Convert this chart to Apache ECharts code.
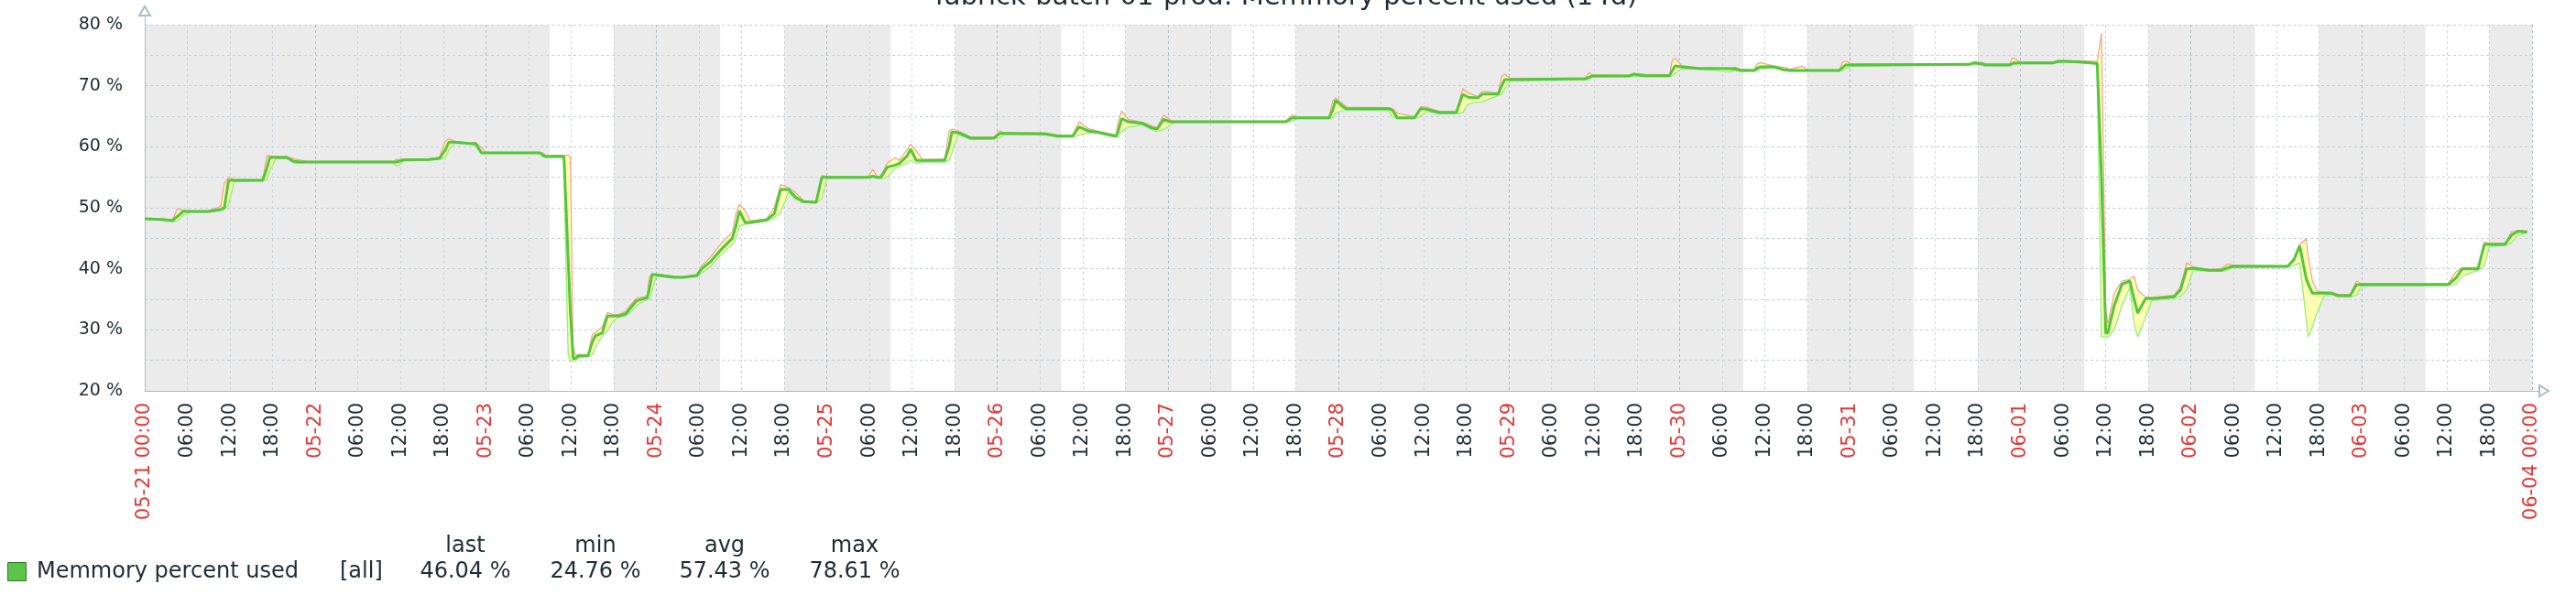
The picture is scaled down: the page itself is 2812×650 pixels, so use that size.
<!DOCTYPE html>
<html><head><meta charset="utf-8">
<script src="https://cdn.jsdelivr.net/npm/echarts@6/dist/echarts.min.js"></script>
<style>html,body{margin:0;padding:0;background:#fff}#c{width:2812px;height:650px}</style>
</head><body><div id="c"></div>
<script>
const titleText = 'fabrick-batch-01-prod: Memmory percent used (14d)';
const startDate = Date.UTC(2022, 4, 21);
const spanHours = 336;
const workDays = ['05-23','05-24','05-25','05-26','05-27','05-30','05-31','06-01','06-02','06-03'];
const workHours = [9, 18];
const legendName = 'Memmory percent used';
const legendFunc = '[all]';
const legendHeaders = ['last', 'min', 'avg', 'max'];
const legendValues = ['46.04 %', '24.76 %', '57.43 %', '78.61 %'];

// hours since 05-21 00:00
const hours = [0,2.4,3.9,4.6,5.4,6.5,9.0,10.7,11.2,11.8,12.6,16.6,17.2,17.6,18.4,20.0,21.0,22.0,23.0,35.0,35.4,35.8,36.4,40.0,41.5,42.3,42.8,43.6,46.0,46.6,47.4,48.0,55.6,56.0,56.4,59.0,59.3,59.6,59.9,60.3,60.7,61.1,62.4,63.0,63.4,64.4,65.1,66.0,66.6,67.7,68.3,69.2,70.7,71.0,71.4,72.0,74.5,75.7,77.7,78.4,79.7,81.0,82.7,83.2,83.7,84.5,85.2,87.5,88.6,89.5,90.6,91.6,92.7,94.5,95.3,96.0,101.8,102.5,103.0,103.6,104.5,105.6,106.2,107.3,107.8,108.6,109.5,112.6,113.2,113.6,114.5,116.3,119.5,120.4,121.0,126.7,128.5,130.6,131.5,132.8,134.3,135.6,136.7,137.0,137.5,138.4,140.4,141.7,142.5,143.4,144.3,145.0,160.6,161.5,162.2,166.7,167.2,167.6,168.7,169.1,175.0,175.6,176.3,178.7,179.6,180.4,182.2,184.6,185.5,186.3,187.6,188.3,190.5,191.0,191.4,192.2,202.8,203.3,203.7,208.9,209.6,211.1,214.6,215.0,215.4,216.3,218.5,223.0,223.9,224.6,226.5,227.0,227.4,229.4,230.7,231.6,233.3,234.0,238.5,239.0,239.4,240.2,256.8,257.5,258.6,259.0,262.5,262.8,263.1,264.0,268.6,269.3,270.3,272.3,274.8,275.4,276.0,276.3,277.2,278.3,279.4,280.0,280.5,281.6,282.5,285.6,286.5,287.4,288.3,290.5,292.2,293.2,293.8,301.6,302.5,303.3,304.2,304.5,305.1,305.8,306.8,307.8,308.7,310.4,311.3,312.0,324.2,325.3,326.2,328.4,329.3,330.0,332.2,333.1,334.0,335.3];
const avgValues = [48.2,48.1,47.9,48.6,49.4,49.4,49.4,49.75,50.0,54.5,54.5,54.5,56.5,58.25,58.25,58.25,57.6,57.5,57.5,57.5,57.5,57.6,57.85,57.9,58.1,59.5,60.75,60.75,60.5,60.5,59.0,59.0,59.0,58.7,58.4,58.4,50.0,41.5,33.0,25.25,25.4,25.75,25.75,28.0,29.0,29.5,32.25,32.25,32.25,32.6,33.5,34.75,35.25,36.5,39.0,39.0,38.6,38.6,38.9,40.0,41.25,43.0,45.0,47.0,49.5,47.6,47.6,48.0,49.0,53.0,53.0,51.75,51.0,50.9,55.0,55.0,55.0,55.2,55.0,55.0,56.65,57.0,57.25,58.5,59.6,57.75,57.75,57.8,60.0,62.4,62.3,61.4,61.4,62.2,62.2,62.1,61.75,61.75,63.25,62.6,62.35,62.0,61.75,62.5,64.6,64.1,63.85,63.1,62.9,64.5,64.1,64.1,64.1,64.75,64.75,64.75,66.0,67.6,66.5,66.25,66.25,66.0,64.75,64.75,66.25,66.15,65.6,65.6,68.6,68.1,68.0,68.65,68.65,70.0,71.0,71.0,71.15,71.4,71.6,71.6,71.9,71.65,71.65,72.5,73.25,73.1,72.85,72.8,72.75,72.5,72.5,72.9,73.1,73.1,72.6,72.5,72.5,72.5,72.5,73.0,73.4,73.4,73.5,73.75,73.6,73.4,73.4,73.6,73.75,73.75,73.75,74.0,74.0,73.9,73.65,55.0,29.5,29.5,34.0,37.5,38.0,35.0,32.75,35.1,35.1,35.4,36.5,40.0,40.1,39.75,39.75,40.2,40.4,40.4,41.5,43.75,38.5,37.5,36.0,36.0,36.0,36.0,35.6,35.6,37.4,37.4,37.4,38.5,40.0,40.0,44.0,44.0,44.0,45.5,46.15,46.04];
const minValues = [48.1,48.0,47.7,47.8,48.8,49.3,49.3,49.5,49.8,50.5,54.3,54.4,54.6,56.0,58.0,58.1,57.3,57.3,57.4,57.4,56.9,57.0,57.7,57.8,58.0,58.2,59.5,60.6,60.4,60.0,58.9,58.9,58.9,58.3,58.3,58.3,40.0,26.0,24.76,24.9,25.0,25.5,25.6,25.9,27.0,29.0,29.8,31.5,32.0,32.3,32.8,34.0,35.0,35.0,36.5,38.8,38.5,38.5,38.7,39.3,40.5,42.2,44.0,45.0,47.0,47.3,47.4,47.8,48.4,49.2,52.5,51.4,50.9,50.8,51.5,54.8,54.9,54.9,54.9,54.8,55.0,56.5,56.8,57.3,57.8,57.3,57.5,57.5,57.8,59.0,62.0,61.2,61.3,61.5,62.0,62.0,61.6,61.6,61.9,62.3,62.2,61.8,61.6,61.7,62.5,63.2,63.6,62.8,62.5,62.8,63.5,64.0,64.0,64.2,64.6,64.6,64.8,65.5,66.0,66.0,66.0,64.9,64.6,64.6,65.0,65.8,65.4,65.4,65.6,67.0,67.3,67.4,68.4,68.6,69.5,70.8,71.0,71.0,71.4,71.5,71.6,71.5,71.5,71.7,72.0,72.8,72.7,72.3,72.5,72.4,72.4,72.5,72.8,72.9,72.5,72.4,72.4,72.4,72.4,72.5,72.8,73.2,73.4,73.5,73.4,73.3,73.3,73.4,73.5,73.6,73.6,73.8,73.9,73.8,73.5,28.8,29.0,28.8,30.0,34.0,37.0,31.0,28.8,32.0,34.8,35.2,35.5,36.5,39.8,39.6,39.6,39.8,40.2,40.3,40.5,41.0,32.0,28.8,30.5,33.0,35.7,35.8,35.4,35.4,35.7,37.2,37.3,37.5,38.8,39.8,40.5,43.7,43.8,44.3,45.5,45.9];
const maxValues = [48.3,48.2,48.0,49.8,49.6,49.5,49.5,50.2,54.0,55.0,54.6,54.6,58.6,58.5,58.4,58.4,58.0,57.8,57.6,57.6,57.9,57.9,58.0,58.0,58.3,60.9,61.3,60.9,60.6,60.7,59.8,59.1,59.1,59.0,58.6,58.6,58.6,58.6,58.4,27.0,25.8,26.0,25.9,29.3,29.5,30.5,32.8,32.5,32.5,33.0,34.0,35.2,35.5,38.5,39.3,39.1,38.8,38.7,39.0,40.5,42.0,44.0,46.0,49.0,50.6,49.5,47.9,48.2,50.0,53.8,53.3,52.5,51.2,51.0,55.3,55.1,55.1,56.3,55.2,55.1,57.3,58.2,57.8,59.5,60.4,59.3,57.9,58.0,62.5,62.9,62.6,61.6,61.6,62.6,62.3,62.3,61.9,61.9,64.1,63.0,62.5,62.2,61.9,64.0,65.9,64.5,64.0,63.4,63.2,65.2,64.4,64.2,64.2,65.2,64.9,64.9,67.5,68.0,67.0,66.5,66.4,66.3,65.5,64.9,66.6,66.5,65.8,65.8,69.5,68.8,68.2,69.1,68.8,71.5,71.9,71.2,71.3,72.2,71.8,71.7,72.0,71.9,71.8,74.2,74.5,73.3,73.0,72.9,73.0,72.7,72.6,73.6,73.8,73.2,73.0,72.7,73.2,72.6,72.6,73.9,74.0,73.6,73.6,73.9,73.8,73.6,73.6,74.5,74.5,73.9,73.9,74.1,74.1,74.1,74.0,78.61,33.0,31.0,36.0,38.0,38.3,38.8,36.5,35.4,35.3,35.7,37.0,41.0,40.3,39.9,40.0,40.8,40.6,40.5,41.8,44.0,44.9,42.0,38.0,36.3,36.2,36.2,35.8,35.8,38.0,37.6,37.6,39.5,40.2,40.2,44.4,44.2,44.2,46.0,46.3,46.2];

const FONT = 'DejaVu Sans';
const TEXT = '#1F2C33';
const RED = '#E33734';
const G = {left: 158, right: 48, top: 27, bottom: 223};

const dayMs = 86400000;
const workRanges = workDays.map(md => {
  const [m, d] = md.split('-').map(Number);
  const day = (Date.UTC(2022, m - 1, d) - startDate) / dayMs;
  return [day * 24 + workHours[0], day * 24 + workHours[1]];
});
const offRanges = [];
let cur = 0;
workRanges.forEach(([a, b]) => { if (a > cur) offRanges.push([cur, a]); cur = b; });
if (cur < spanHours) offRanges.push([cur, spanHours]);

const pad = n => String(n).padStart(2, '0');
function xLabel(h) {
  const d = new Date(startDate + h * 3600000);
  const md = pad(d.getUTCMonth() + 1) + '-' + pad(d.getUTCDate());
  const hh = pad(d.getUTCHours()) + ':00';
  if (h === 0 || h === spanHours) return '{r|' + md + ' ' + hh + '}';
  if (d.getUTCHours() === 0) return '{r|' + md + '}';
  return hh;
}

const pts = arr => hours.map((h, i) => [h, arr[i]]);

const chart = echarts.init(document.getElementById('c'), null, {renderer: 'canvas'});
const colCenters = [508, 650, 791, 933];
const graphics = [
  {type: 'text', x: 1404, y: -3, style: {text: titleText, font: '29px "DejaVu Sans"', fill: TEXT, align: 'center', verticalAlign: 'middle'}},
  {type: 'rect', shape: {x: 8.5, y: 614.5, width: 20, height: 20}, style: {fill: '#5CC44A', stroke: '#2F7A2A', lineWidth: 1}},
  {type: 'text', x: 40, y: 625, style: {text: legendName, font: '24px "DejaVu Sans"', fill: TEXT, verticalAlign: 'middle'}},
  {type: 'text', x: 371, y: 625, style: {text: legendFunc, font: '24px "DejaVu Sans"', fill: TEXT, verticalAlign: 'middle'}},
  {type: 'line', shape: {x1: G.left + 0.5, y1: G.top, x2: G.left + 0.5, y2: G.top - 10}, style: {stroke: '#ACBBC2', lineWidth: 1}},
  {type: 'line', shape: {x1: 2812 - G.right, y1: 650 - G.bottom + 0.5, x2: 2812 - G.right + 8, y2: 650 - G.bottom + 0.5}, style: {stroke: '#ACBBC2', lineWidth: 1}}
];
legendHeaders.forEach((t, i) => graphics.push({type: 'text', x: colCenters[i], y: 597, style: {text: t, font: '24px "DejaVu Sans"', fill: TEXT, align: 'center', verticalAlign: 'middle'}}));
legendValues.forEach((t, i) => graphics.push({type: 'text', x: colCenters[i], y: 625, style: {text: t, font: '24px "DejaVu Sans"', fill: TEXT, align: 'center', verticalAlign: 'middle'}}));

const thin = {symbol: 'none', silent: true, animation: false};
chart.setOption({
  animation: false,
  backgroundColor: '#ffffff',
  grid: G,
  xAxis: {
    type: 'value', min: 0, max: spanHours, interval: 6, z: 1.5,
    axisLine: {show: true, lineStyle: {color: '#ACBBC2', width: 1}, symbol: ['none', 'emptyTriangle'], symbolSize: [12, 10], symbolOffset: [0, 13]},
    axisTick: {show: false},
    axisLabel: {rotate: 90, margin: 13, fontFamily: FONT, fontSize: 21, color: TEXT, formatter: xLabel,
      rich: {r: {color: RED, fontFamily: FONT, fontSize: 21}}},
    splitLine: {show: true, lineStyle: {color: ['#ACBBC2', '#CCD5D9', '#CCD5D9', '#CCD5D9'], type: [3, 3], width: 1}}
  },
  yAxis: {
    type: 'value', min: 20, max: 80, interval: 5, z: 1.5,
    axisLine: {show: true, lineStyle: {color: '#ACBBC2', width: 1}, symbol: ['none', 'emptyTriangle'], symbolSize: [12, 10], symbolOffset: [0, 15]},
    axisTick: {show: false},
    axisLabel: {margin: 24, fontFamily: FONT, fontSize: 19, color: TEXT, formatter: v => (v % 10 === 0 ? v + ' %' : '')},
    splitLine: {show: true, lineStyle: {color: '#C4CED3', type: [3, 3], width: 1}}
  },
  series: [
    {type: 'custom', name: 'band', silent: true, animation: false, clip: true,
      data: hours.map((h, i) => [h, minValues[i], maxValues[i]]),
      encode: {x: 0, y: [1, 2]},
      renderItem: (params, api) => {
        if (params.dataIndex !== 0) return null;
        const top = hours.map((h, i) => api.coord([h, maxValues[i]]));
        const bottom = hours.map((h, i) => api.coord([h, minValues[i]])).reverse();
        return {type: 'polygon', shape: {points: top.concat(bottom)}, style: {fill: 'rgba(255,255,160,0.8)'}};
      }},
    Object.assign({type: 'line', name: 'max', data: pts(maxValues), lineStyle: {color: '#F4A090', width: 1.2}}, thin),
    Object.assign({type: 'line', name: 'min', data: pts(minValues), lineStyle: {color: '#98F07E', width: 1.4},
      markArea: {silent: true, itemStyle: {color: '#EBEBEB'}, data: offRanges.map(([a, b]) => [{xAxis: a}, {xAxis: b}])}}, thin),
    Object.assign({type: 'line', name: legendName, data: pts(avgValues), lineStyle: {color: '#54C63C', width: 3}}, thin)
  ],
  graphic: graphics
});
</script></body></html>
